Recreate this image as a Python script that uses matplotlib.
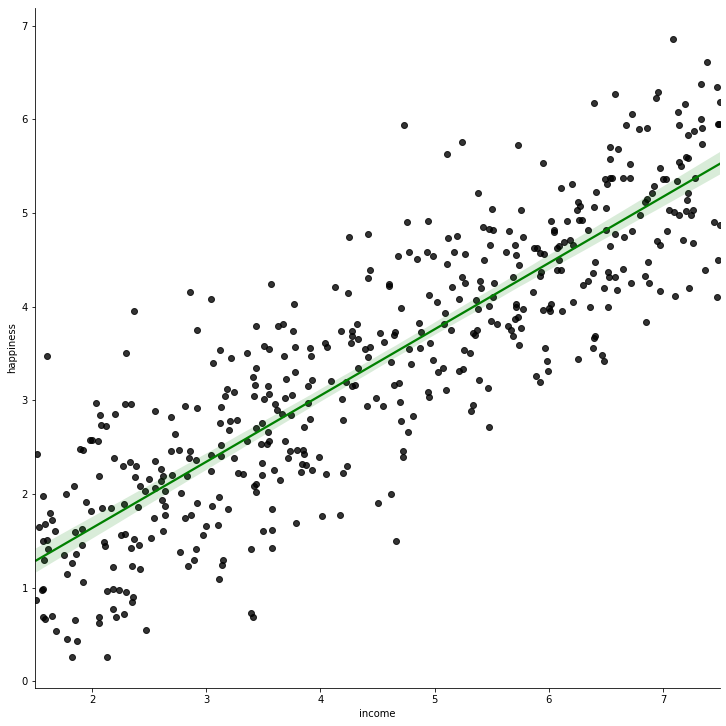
import numpy as np
import matplotlib
matplotlib.use("Agg")
import matplotlib.pyplot as plt
import seaborn as sns

# values, grouped by region of the plot (left to right)
income_1 = [1.608, 2.298, 1.52, 2.03, 2.07, 2.20, 2.29, 2.345, 2.08, 2.12, 1.98, 2.00, 2.05, 1.89, 1.92,
            2.196, 2.275, 2.33, 2.386, 2.064, 2.377, 2.50, 2.42, 2.46, 1.84, 1.573, 1.775, 1.95, 1.99,
            2.09, 2.17, 2.28, 2.40, 1.634, 2.37]
happiness_1 = [3.475, 3.507, 2.43, 2.97, 2.85, 2.86, 2.96, 2.96, 2.74, 2.73, 2.58, 2.58, 2.57, 2.48, 2.47,
               2.39, 2.305, 2.34, 2.305, 2.19, 2.18, 2.16, 2.09, 2.035, 2.09, 1.98, 2.0, 1.92, 1.815,
               1.85, 1.85, 1.89, 1.86, 1.80, 3.96]

income_2 = [1.646, 1.588, 1.538, 1.678, 1.567, 1.608, 1.617, 1.58, 1.757, 1.82, 1.783, 1.86, 1.854, 1.91,
            1.915, 2.10, 2.117, 2.25, 2.29, 2.37, 2.345, 2.415, 2.515, 2.18, 2.35, 2.42, 1.92, 1.56, 1.57,
            1.51, 2.13, 2.18, 2.24, 2.30, 2.357, 2.35, 2.187, 2.21, 2.28, 2.064, 2.064, 1.567, 1.585,
            1.652, 1.854, 1.687, 1.783, 1.87, 1.82, 2.13, 2.476]
happiness_2 = [1.72, 1.68, 1.65, 1.61, 1.50, 1.51, 1.415, 1.30, 1.35, 1.26, 1.15, 1.36, 1.60, 1.63,
               1.46, 1.49, 1.45, 1.56, 1.57, 1.52, 1.43, 1.46, 1.53, 1.22, 1.23, 1.20, 1.06, 0.98, 0.99,
               0.865, 0.97, 0.99, 0.98, 0.96, 0.90, 0.85, 0.77, 0.69, 0.72, 0.69, 0.62, 0.69, 0.67,
               0.70, 0.66, 0.54, 0.455, 0.43, 0.26, 0.26, 0.55]

income_3 = [2.86, 3.04, 2.92, 3.44, 3.51, 3.12, 3.06, 3.22, 3.36, 3.44, 3.41, 3.43, 3.18, 3.16, 3.24,
            3.42, 3.51, 2.555, 2.81, 2.915, 3.125, 2.69, 2.73, 3.12, 3.21, 3.27, 3.20, 3.44, 3.49, 2.69,
            2.76, 2.86, 3.125, 3.36, 3.48]
happiness_3 = [4.156, 4.08, 3.75, 3.80, 3.58, 3.54, 3.40, 3.45, 3.51, 3.35, 3.25, 3.17, 3.12, 3.05, 3.09,
               3.05, 3.02, 2.89, 2.94, 2.92, 2.93, 2.82, 2.645, 2.76, 2.78, 2.795, 2.68, 2.71, 2.76, 2.465,
               2.475, 2.455, 2.52, 2.57, 2.53]

income_4 = [2.55, 2.60, 2.625, 2.60, 2.70, 2.55, 2.643, 2.61, 2.643, 2.643, 2.54, 2.625, 2.83, 2.775,
            2.85, 2.906, 3.04, 3.125, 3.24, 3.04, 2.92, 3.047, 3.11, 3.19, 2.81, 2.87, 2.994, 3.10, 2.97,
            2.906, 2.766, 2.89, 2.836, 3.15, 3.14, 3.11, 3.28, 3.32, 3.485, 3.49, 3.42, 3.44, 3.44, 3.50,
            3.39, 3.39, 3.41]
happiness_4 = [2.35, 2.27, 2.19, 2.14, 2.20, 2.07, 2.03, 1.94, 1.87, 1.78, 1.74, 1.61, 2.19, 2.01,
               2.39, 2.36, 2.415, 2.41, 2.39, 2.25, 1.91, 1.87, 1.965, 1.84, 1.75, 1.78, 1.66, 1.67, 1.56,
               1.41, 1.38, 1.295, 1.23, 1.295, 1.24, 1.09, 2.23, 2.22, 2.33, 2.20, 2.09, 2.11, 2.02, 1.61,
               1.41, 0.73, 0.69]

income_5 = [4.25, 4.42, 3.57, 4.125, 4.24, 4.43, 4.42, 3.77, 3.63, 3.67, 3.757, 4.18, 4.275, 4.32, 4.28,
            4.33, 4.265, 4.52, 3.55, 3.775, 3.91, 3.915, 4.04, 4.06, 3.68, 4.39, 4.43, 4.42, 4.33, 3.775,
            3.70, 3.54, 3.55, 3.60, 3.617, 3.66, 3.74, 3.69, 3.75, 3.89, 3.93, 4.09, 4.22, 4.275, 4.30,
            3.89, 4.19, 4.41, 4.49, 3.91, 4.20]
happiness_5 = [4.75, 4.78, 4.245, 4.21, 4.145, 4.39, 4.305, 4.03, 3.795, 3.815, 3.745, 3.745, 3.745, 3.815,
               3.69, 3.655, 3.615, 3.72, 3.55, 3.57, 3.56, 3.475, 3.615, 3.57, 3.475, 3.55, 3.57, 3.465,
               3.35, 3.305, 3.23, 3.155, 3.07, 2.965, 2.90, 2.86, 2.84, 3.03, 3.06, 3.155, 3.22, 3.21, 3.20,
               3.155, 3.17, 2.975, 3.02, 2.94, 3.03, 2.80, 2.795]

income_6 = [3.86, 3.54, 3.55, 3.53, 3.69, 3.73, 3.795, 3.845, 3.86, 3.72, 3.985, 3.835, 3.87, 3.83, 3.93,
            4.05, 3.59, 3.65, 4.23, 4.195, 3.58, 4.01, 4.17, 4.505, 3.79, 3.58, 3.58]
happiness_6 = [2.72, 2.665, 2.57, 2.54, 2.57, 2.455, 2.47, 2.47, 2.43, 2.39, 2.40, 2.32, 2.315, 2.24, 2.255,
               2.21, 2.255, 2.155, 2.295, 2.23, 1.84, 1.77, 1.78, 1.90, 1.69, 1.62, 1.42]

income_7 = [4.73, 5.24, 5.11, 5.38, 5.50, 4.757, 4.94, 5.42, 5.475, 5.51, 5.117, 5.20, 5.485, 4.68, 4.775,
            4.845, 4.93, 4.985, 5.17, 5.265, 5.11, 5.43, 4.60, 4.60, 5.24, 5.265, 5.15, 5.40, 5.41, 5.52,
            4.95, 5.02, 5.21, 5.36, 5.38, 5.475, 4.71, 5.09, 4.86, 5.495, 5.08]
happiness_7 = [5.94, 5.76, 5.635, 5.22, 5.04, 4.90, 4.92, 4.85, 4.83, 4.82, 4.73, 4.76, 4.655, 4.54, 4.58,
               4.51, 4.59, 4.54, 4.59, 4.56, 4.455, 4.50, 4.24, 4.225, 4.315, 4.25, 4.21, 4.28, 4.20, 4.25,
               4.125, 4.05, 4.08, 4.07, 3.975, 4.01, 3.985, 3.93, 3.83, 3.85, 3.815]

income_8 = [4.645, 4.65, 4.555, 4.88, 5.14, 5.335, 5.37, 5.35, 4.78, 4.87, 4.96, 4.62, 4.79, 4.99, 5.257,
            5.31, 5.07, 5.03, 5.21, 5.25, 5.39, 5.47, 4.645, 4.69, 4.94, 4.95, 5.10, 4.547, 4.70, 5.335,
            5.32, 4.705, 4.81, 4.765, 5.475, 4.72, 4.72, 4.62, 4.66]
happiness_8 = [3.70, 3.73, 3.625, 3.73, 3.75, 3.72, 3.75, 3.70, 3.55, 3.56, 3.615, 3.41, 3.39, 3.43, 3.54,
               3.51, 3.35, 3.305, 3.315, 3.34, 3.22, 3.135, 3.17, 3.19, 3.09, 3.04, 3.11, 2.94, 2.985, 2.95,
               2.89, 2.78, 2.835, 2.665, 2.72, 2.455, 2.40, 2.00, 1.50]

income_9 = [6.397, 5.73, 5.95, 6.54, 6.54, 6.11, 6.20, 6.415, 6.49, 6.51, 6.54, 6.257, 6.275, 6.25, 6.397,
            6.50, 5.757, 6.02, 6.16, 6.265, 6.29, 6.047, 6.047, 6.345, 6.50, 5.65, 5.775, 5.70, 5.625,
            5.71, 5.87, 5.90, 5.92, 5.96, 6.07, 6.09, 6.13, 6.19, 6.21, 6.09, 6.405, 6.54, 5.74]
happiness_9 = [6.18, 5.73, 5.53, 5.71, 5.58, 5.27, 5.31, 5.23, 5.36, 5.31, 5.37, 5.12, 5.08, 5.03, 5.07,
               5.06, 5.03, 4.92, 4.92, 4.93, 4.93, 4.815, 4.795, 4.815, 4.815, 4.805, 4.75, 4.655, 4.58,
               4.55, 4.625, 4.625, 4.57, 4.56, 4.625, 4.645, 4.69, 4.71, 4.655, 4.50, 4.475, 4.645, 4.445]

income_10 = [5.687, 5.51, 5.93, 5.92, 6.07, 6.11, 6.39, 6.52, 6.53, 6.34, 6.30, 6.485, 5.86, 6.21, 6.02,
             6.00, 6.01, 5.95, 6.12, 6.36, 6.52, 5.71, 5.71, 5.775, 5.73, 5.705, 5.55, 5.645, 5.67, 5.757,
             5.687, 5.74, 5.97, 5.985, 5.99, 5.89, 5.92, 6.405, 6.40, 6.39, 6.26, 6.47, 6.485]
happiness_10 = [4.315, 4.105, 4.37, 4.33, 4.39, 4.39, 4.36, 4.37, 4.315, 4.27, 4.23, 4.20, 4.155, 4.05, 4.03,
                3.985, 3.955, 3.965, 3.955, 4.00, 4.00, 4.03, 4.00, 3.975, 3.89, 3.87, 3.815, 3.795, 3.75,
                3.77, 3.69, 3.59, 3.56, 3.42, 3.315, 3.26, 3.20, 3.69, 3.67, 3.56, 3.44, 3.485, 3.42]

income_11 = [7.09, 7.39, 7.33, 7.47, 7.50, 6.58, 6.96, 6.94, 7.19, 7.13, 6.73, 6.68, 6.79, 6.86, 7.14,
             7.33, 7.34, 7.275, 7.22, 7.48, 7.49, 7.34, 6.61, 6.71, 6.975, 7.14, 7.16, 7.20, 7.22, 6.55,
             6.65, 6.71, 7.00, 7.03, 7.125, 7.28, 6.92]
happiness_11 = [6.86, 6.61, 6.38, 6.35, 6.19, 6.27, 6.295, 6.23, 6.16, 6.08, 6.06, 5.94, 5.90, 5.91, 5.94,
                6.00, 5.91, 5.88, 5.83, 5.955, 5.955, 5.74, 5.68, 5.52, 5.485, 5.55, 5.50, 5.60, 5.59, 5.38,
                5.37, 5.37, 5.36, 5.36, 5.34, 5.37, 5.29]

income_12 = [6.905, 6.86, 6.845, 7.22, 7.215, 7.055, 7.10, 7.14, 7.20, 7.26, 7.25, 6.80, 7.45, 7.50, 6.58,
             6.66, 6.73, 7.04, 6.95, 6.975, 7.18, 7.265, 7.485, 6.87, 7.37, 6.65, 6.58, 6.845, 6.88, 6.72,
             6.60, 6.975, 7.11, 7.23, 7.475, 6.85]
happiness_12 = [5.21, 5.155, 5.12, 5.22, 5.145, 5.03, 5.01, 4.975, 5.02, 5.03, 4.975, 4.975, 4.90, 4.87, 4.78,
                4.75, 4.805, 4.805, 4.70, 4.655, 4.71, 4.68, 4.50, 4.475, 4.39, 4.40, 4.32, 4.325, 4.25, 4.25,
                4.175, 4.165, 4.11, 4.20, 4.10, 3.84]

income = np.concatenate([income_1, income_2, income_3, income_4, income_5, income_6,
                         income_7, income_8, income_9, income_10, income_11, income_12])
happiness = np.concatenate([happiness_1, happiness_2, happiness_3, happiness_4, happiness_5, happiness_6,
                            happiness_7, happiness_8, happiness_9, happiness_10, happiness_11, happiness_12])

fig = plt.figure(figsize=(726 / 72, 726 / 72), dpi=72)
ax = fig.add_axes([35 / 726, 38 / 726, 685 / 726, 680 / 726])

sns.regplot(x=income, y=happiness, ax=ax, color="black",
            line_kws={"color": "green"}, seed=0)

ax.set_xlim(1.5, 7.5)
ax.set_xlabel("income")
ax.set_ylabel("happiness")
ax.spines["top"].set_visible(False)
ax.spines["right"].set_visible(False)

fig.savefig("out.png", dpi=72)
